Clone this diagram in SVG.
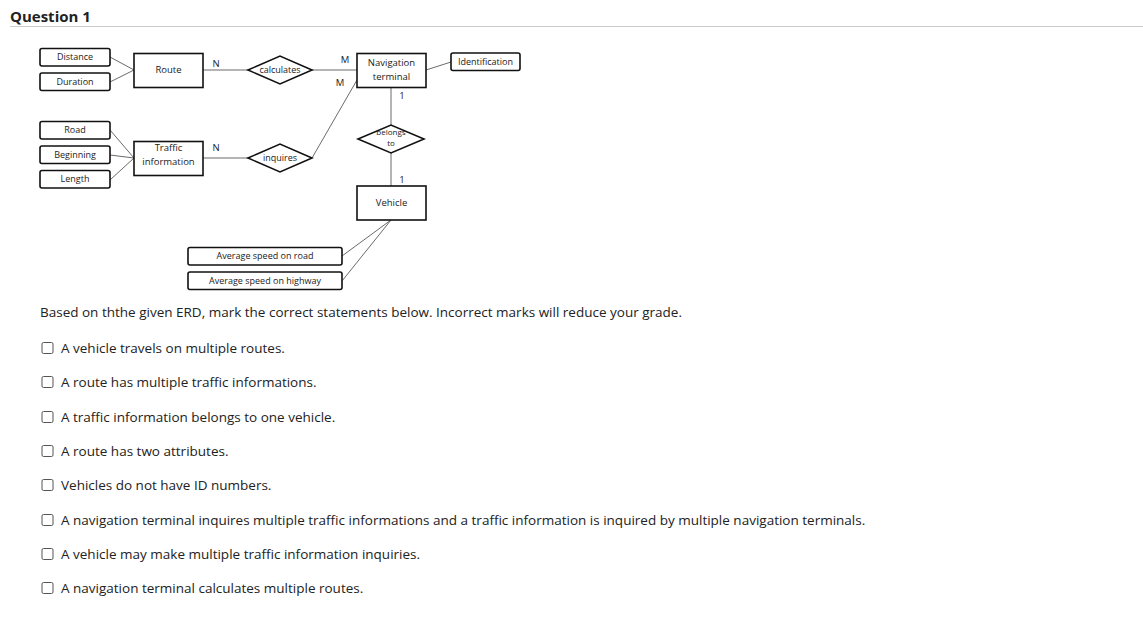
<svg xmlns="http://www.w3.org/2000/svg" width="1143" height="629" viewBox="0 0 1143 629">
<style>
.a{fill:#fff;stroke:#111;stroke-width:1.6}
.e{fill:#fff;stroke:#111;stroke-width:1.6}
.l{stroke:#444;stroke-width:0.8;fill:none}
text{font-family:"Open Sans","Liberation Sans",sans-serif;fill:#222}
.s{font-size:9px;text-anchor:middle}
.m{font-size:9.5px;text-anchor:middle}
.q{font-size:13.5px}
.cb{fill:#fff;stroke:#555;stroke-width:1}
</style>
<rect width="1143" height="629" fill="#fff"/>
<text x="10" y="22" style="font-size:15px;font-weight:bold" fill="#111">Question 1</text>
<line x1="10" y1="26.5" x2="1143" y2="26.5" stroke="#ccc"/>
<g id="connectors" class="l">
<line x1="110" y1="57" x2="134" y2="70"/><line x1="110" y1="82" x2="134" y2="70"/>
<line x1="203" y1="70" x2="248" y2="70"/><line x1="312" y1="70" x2="357" y2="70"/>
<line x1="426" y1="70" x2="451" y2="62"/>
<line x1="110" y1="130" x2="134" y2="158"/><line x1="110" y1="155" x2="134" y2="158"/><line x1="110" y1="180" x2="134" y2="158"/>
<line x1="203" y1="158" x2="248" y2="158"/><line x1="312" y1="158" x2="357" y2="80"/>
<line x1="391" y1="87" x2="391" y2="125"/><line x1="391" y1="153" x2="391" y2="186"/>
<line x1="342" y1="256" x2="391" y2="220"/><line x1="342" y1="281" x2="391" y2="220"/>
</g>
<g id="distance"><rect class="a" x="40" y="48.5" width="70" height="17.5" rx="2"/><text class="s" x="75" y="60">Distance</text></g>
<g id="duration"><rect class="a" x="40" y="73" width="70" height="17.5" rx="2"/><text class="s" x="75" y="84.5">Duration</text></g>
<g id="route"><rect class="e" x="134" y="53.5" width="69" height="34"/><text class="m" x="168.5" y="73">Route</text></g>
<g id="calculates"><polygon class="e" points="248,70 280,56 312,70 280,84"/><text class="s" x="280" y="73">calculates</text></g>
<g id="nav"><rect class="e" x="357" y="53.5" width="69" height="34"/><text class="m" x="391.5" y="66">Navigation</text><text class="m" x="391.5" y="80">terminal</text></g>
<g id="identification"><rect class="a" x="451" y="53" width="69" height="17.5" rx="2"/><text class="s" x="485.5" y="64.5">Identification</text></g>
<g id="road"><rect class="a" x="40" y="121.5" width="70" height="17.5" rx="2"/><text class="s" x="75" y="133">Road</text></g>
<g id="beginning"><rect class="a" x="40" y="146" width="70" height="17.5" rx="2"/><text class="s" x="75" y="157.5">Beginning</text></g>
<g id="length"><rect class="a" x="40" y="170.5" width="70" height="17.5" rx="2"/><text class="s" x="75" y="182">Length</text></g>
<g id="traffic"><rect class="e" x="134" y="141.5" width="69" height="34"/><text class="m" x="168.5" y="151">Traffic</text><text class="m" x="168.5" y="165">information</text></g>
<g id="inquires"><polygon class="e" points="248,158 280,144 312,158 280,172"/><text class="s" x="280" y="161">inquires</text></g>
<g id="belongs"><polygon class="e" points="358,139 391,125 424,139 391,153"/><text class="s" x="391" y="135" style="font-size:8px">belongs</text><text class="s" x="391" y="146" style="font-size:8px">to</text></g>
<g id="vehicle"><rect class="e" x="357" y="186" width="69" height="34"/><text class="m" x="391.5" y="206">Vehicle</text></g>
<g id="avgroad"><rect class="a" x="188" y="247.5" width="154" height="17.5" rx="2"/><text class="s" x="265" y="259">Average speed on road</text></g>
<g id="avghwy"><rect class="a" x="188" y="272" width="154" height="17.5" rx="2"/><text class="s" x="265" y="283.5">Average speed on highway</text></g>
<g id="cards" class="m">
<text x="216" y="67">N</text><text x="345" y="63">M</text><text x="340" y="86">M</text><text x="402" y="99">1</text>
<text x="216" y="151">N</text><text x="402" y="183">1</text>
</g>
<text class="q" x="40" y="317">Based on ththe given ERD, mark the correct statements below. Incorrect marks will reduce your grade.</text>
<g id="options">
<rect class="cb" x="42" y="342.5" width="11" height="11" rx="1.5"/><text class="q" x="61" y="353">A vehicle travels on multiple routes.</text>
<rect class="cb" x="42" y="376.5" width="11" height="11" rx="1.5"/><text class="q" x="61" y="387">A route has multiple traffic informations.</text>
<rect class="cb" x="42" y="411.5" width="11" height="11" rx="1.5"/><text class="q" x="61" y="422">A traffic information belongs to one vehicle.</text>
<rect class="cb" x="42" y="445.5" width="11" height="11" rx="1.5"/><text class="q" x="61" y="456">A route has two attributes.</text>
<rect class="cb" x="42" y="479.5" width="11" height="11" rx="1.5"/><text class="q" x="61" y="490">Vehicles do not have ID numbers.</text>
<rect class="cb" x="42" y="514.5" width="11" height="11" rx="1.5"/><text class="q" x="61" y="525">A navigation terminal inquires multiple traffic informations and a traffic information is inquired by multiple navigation terminals.</text>
<rect class="cb" x="42" y="548.5" width="11" height="11" rx="1.5"/><text class="q" x="61" y="559">A vehicle may make multiple traffic information inquiries.</text>
<rect class="cb" x="42" y="582.5" width="11" height="11" rx="1.5"/><text class="q" x="61" y="593">A navigation terminal calculates multiple routes.</text>
</g>
</svg>
